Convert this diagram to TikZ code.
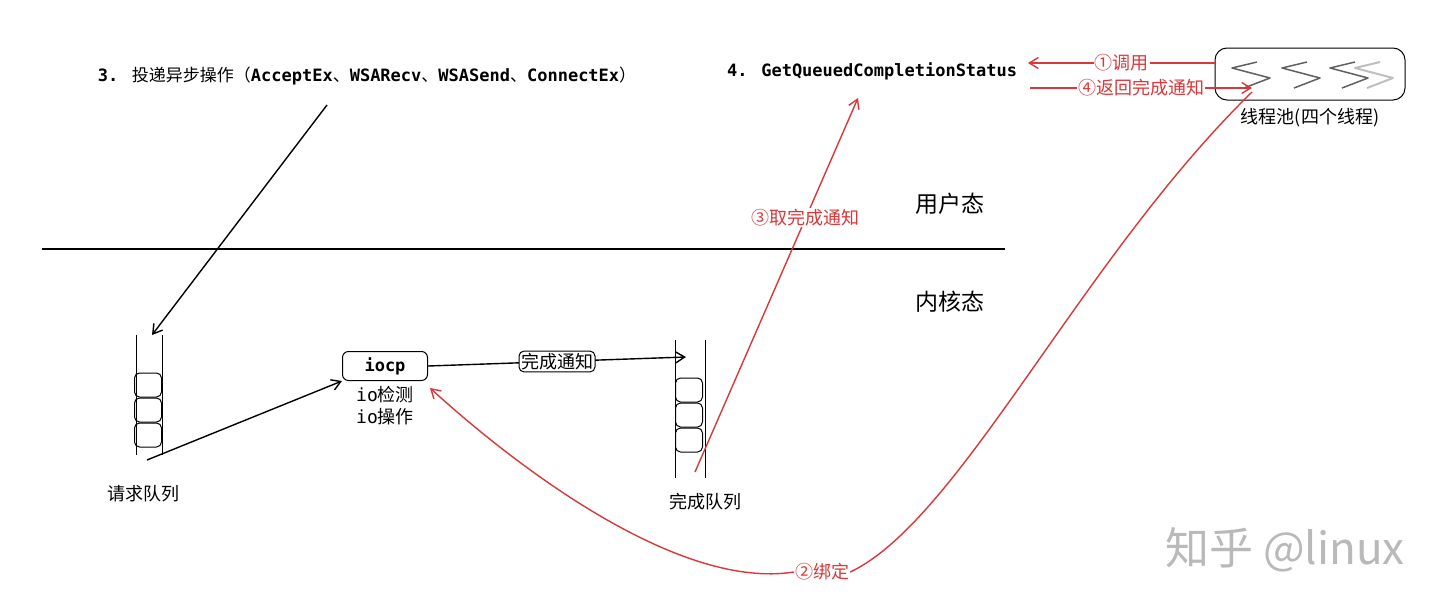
\documentclass[tikz,border=0pt]{standalone}
\usepackage{fontspec}
\setmainfont{Noto Sans CJK SC}
\newfontfamily\cjk{Noto Sans CJK SC}
\newfontfamily\mono{DejaVu Sans Mono}
\usetikzlibrary{arrows.meta}
\definecolor{rd}{HTML}{D9383A}
\begin{document}
\begin{tikzpicture}[x=1pt,y=-1pt,
  txt/.style={font=\fontsize{18}{22}\selectfont, inner sep=1pt},
  mtxt/.style={font=\fontsize{17}{21}\selectfont, inner sep=1pt},
  rtxt/.style={txt,text=rd,fill=white},
  arr/.style={-{Straight Barb[length=9pt,width=11pt]},line width=1.4pt},
  rarr/.style={arr,draw=rd},
  slot/.style={draw,rounded corners=5pt,minimum width=27pt,minimum height=24pt,inner sep=0pt,line width=1pt},
  rail/.style={line width=1pt}]
\useasboundingbox[fill=white] (0,0) rectangle (1440,608);
% texts
\node[mtxt] (post) at (367,76) {\mono\bfseries 3. \cjk\mdseries 投递异步操作（\mono\bfseries AcceptEx\cjk\mdseries 、\mono\bfseries WSARecv\cjk\mdseries 、\mono\bfseries WSASend\cjk\mdseries 、\mono\bfseries ConnectEx\cjk\mdseries ）};
\node[mtxt,anchor=west] (gq) at (726,71) {\mono\bfseries 4. GetQueuedCompletionStatus};
\node[txt,font=\fontsize{23}{26}\selectfont] (user) at (950,204) {用户态};
\node[txt,font=\fontsize{23}{26}\selectfont] (kern) at (950,302) {内核态};
\draw[line width=1.3pt] (42,249) coordinate (l1) -- (1005,249) coordinate (l2);
% thread pool
\node[draw,rounded corners=12pt,minimum width=190pt,minimum height=52pt,line width=1pt] (pool) at (1310,74) {};
\foreach \x in {1232,1282,1330}{
  \draw[line width=1.5pt,gray!75!black,line join=round] (\x+25,62) -- (\x,68) -- (\x+38,78) -- (\x+12,88);}
\draw[line width=2pt,gray!50,line join=round] (1380,62) -- (1355,68) -- (1393,78) -- (1367,88);
\node[txt] (poollbl) at (1310,118) {线程池(四个线程)};
\coordinate (p1) at (1215,63);
\coordinate (g1) at (1028,63);
\draw[rarr] (p1) -- node[rtxt] {①调用} (g1);
\coordinate (g2) at (1030,88);
\coordinate (p2) at (1252,88);
\draw[rarr] (g2) -- node[rtxt] {④返回完成通知} (p2);
% request queue
\draw[rail] (136,335) -- (136,455) (162,335) -- (162,455);
\node[slot] (r1) at (148,385) {};
\node[slot] (r2) at (148,410) {};
\node[slot] (r3) at (148,435) {};
\node[txt] (rq) at (143,494) {请求队列};
\coordinate (a0) at (327,105);
\coordinate (a1) at (152,335);
\draw[arr] (a0) -- (a1);
% iocp
\node[draw,rounded corners=6pt,minimum width=85pt,minimum height=29pt,line width=1pt,mtxt] (iocp) at (385,366) {\mono\bfseries iocp};
\node[txt,align=left] (iolbl) at (385,406) {\mono io\cjk 检测\\\mono io\cjk 操作};
\coordinate (rqs) at (147,460);
\draw[arr] (rqs) -- (342,381);
% completion queue
\draw[rail] (675,340) -- (675,478) (705,340) -- (705,478);
\node[slot] (c1) at (689,390) {};
\node[slot] (c2) at (689,415) {};
\node[slot] (c3) at (689,440) {};
\node[txt] (cq) at (705,502) {完成队列};
\coordinate (cqt) at (686,357);
\draw[arr] (iocp.east) -- node[draw,rounded corners=5pt,fill=white,txt,inner sep=2pt,line width=1pt] (note) {完成通知} (cqt);
% red 3
\coordinate (cqs) at (695,472);
\coordinate (gqb) at (858,98);
\draw[rarr] (cqs) -- node[rtxt,pos=0.68] (take) {③取完成通知} (gqb);
% red 2
\node[rtxt] (bind) at (822,572) {②绑定};
\coordinate (pb) at (1252,92);
\draw[rd,line width=1.4pt] (pb) .. controls (1080,260) and (960,520) .. (bind.east);
\draw[rarr] (bind.west) .. controls (680,590) and (520,470) .. (430,388);
% watermark
\node[text=gray!55,font=\fontsize{44}{46}\selectfont] (wm) at (1285,550) {知乎 @linux};
\end{tikzpicture}
\end{document}
